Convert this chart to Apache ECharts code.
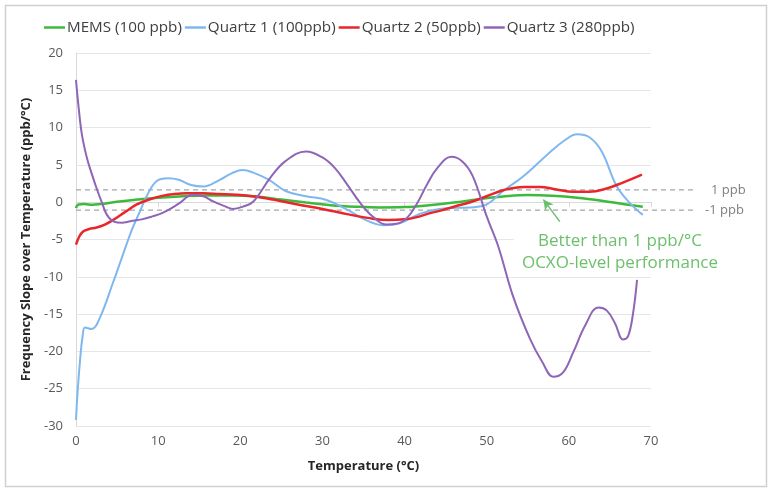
<!DOCTYPE html>
<html lang="en">
<head>
    <meta charset="UTF-8">
    <title>Frequency slope over temperature</title>
    <script src="https://cdn.jsdelivr.net/npm/echarts@6/dist/echarts.min.js"></script>
    <style>
        html, body { margin: 0; padding: 0; background: #fff; }
    </style>
</head>
<body>
<div id="content" style="height: 490px;width: 768px"></div>
<script>
    // series values (temperature in °C, slope in ppb/°C)
    var memsT = [0, 0.3, 1, 2, 3, 5, 7.5, 10, 13, 16, 19, 22, 25, 28, 31, 34, 37, 40, 43, 46, 49, 52, 55, 58, 61, 64, 67, 69];
    var memsV = [-0.8, -0.3, -0.25, -0.35, -0.25, 0.05, 0.35, 0.6, 0.8, 0.9, 0.9, 0.75, 0.35, -0.05, -0.4, -0.6, -0.7, -0.65, -0.4, -0.05, 0.4, 0.75, 0.95, 0.85, 0.6, 0.2, -0.3, -0.6];

    var q1T = [0, 0.16, 0.5, 0.8, 1.1, 1.9, 2.9, 4.5, 5.5, 6.8, 7.8, 8.6, 9.8, 11.2, 12.5, 14, 15.5, 17.5, 19, 20.3, 21.5, 23.5, 25.5, 28, 30.5, 33, 35.5, 37.5, 39.5, 42, 45, 48, 50, 52, 54.5, 57.5, 59.5, 61, 62.5, 64, 65.8, 67.4, 69];
    var q1V = [-29.2, -26, -21.1, -18, -16.8, -17, -15.5, -10.8, -7.7, -3.7, -1.2, 0.8, 2.8, 3.2, 3.0, 2.3, 2.1, 3.0, 3.9, 4.3, 4.0, 3.0, 1.5, 0.8, 0.3, -1.0, -2.5, -3.1, -2.8, -1.5, -0.8, -0.7, -0.3, 1.5, 3.5, 6.5, 8.3, 9.1, 8.7, 6.8, 2.2, -0.1, -1.7];

    var q2T = [0, 0.4, 0.9, 1.6, 2.5, 3.5, 4.5, 6, 7.4, 9, 10.5, 12, 13.5, 15.5, 17.5, 19.5, 21.5, 24, 27, 30, 33, 35.5, 38, 40, 41.5, 43, 44.5, 46, 48, 50, 52, 54.5, 56.5, 58.5, 60.5, 62.5, 64.5, 66.5, 68.9];
    var q2V = [-5.7, -4.6, -3.9, -3.6, -3.4, -3.0, -2.4, -1.3, -0.3, 0.4, 0.85, 1.1, 1.2, 1.2, 1.1, 1.0, 0.8, 0.35, -0.3, -0.9, -1.6, -2.1, -2.4, -2.3, -2.0, -1.5, -1.1, -0.6, 0.0, 0.8, 1.6, 2.05, 2.05, 1.7, 1.4, 1.4, 1.8, 2.6, 3.7];

    var q3T = [0, 0.33, 0.73, 1.34, 1.95, 2.56, 3.17, 3.77, 4.6, 5.6, 6.6, 8, 9.3, 10.6, 12.5, 14.2, 15.5, 16.7, 18, 19.1, 20.3, 21.6, 23.6, 25.5, 28, 30, 31.5, 33, 34.6, 36.2, 37.8, 39, 40.3, 41.5, 42.7, 44, 45.7, 47, 48.3, 50, 51.4, 53.2, 55.3, 56.8, 58.1, 59.3, 60.5, 62, 63.6, 64.6, 65.6, 66.6, 67.2, 67.8, 68.3];
    var q3V = [16.4, 12.6, 9.0, 5.9, 3.7, 1.7, -0.1, -1.7, -2.6, -2.75, -2.55, -2.3, -1.9, -1.4, -0.2, 1.0, 0.8, 0.1, -0.5, -0.9, -0.6, 0.1, 3.2, 5.5, 6.8, 6.0, 4.6, 2.4, -0.1, -2.0, -3.0, -2.9, -2.1, -0.2, 2.3, 4.6, 6.1, 5.5, 3.5, -1.9, -5.9, -12.6, -18.4, -21.5, -23.4, -22.8, -20.2, -16.5, -14.1, -14.5, -16.2, -18.4, -18.0, -15.0, -10.4];

    var seriesNames = ['MEMS (100 ppb)', 'Quartz 1 (100ppb)', 'Quartz 2 (50ppb)', 'Quartz 3 (280ppb)'];
    var seriesColors = ['#3dba3d', '#7fb8ef', '#e8262b', '#8f65b8'];

    // dashed reference levels, drawn on a wider hidden axis
    var refLevels = [1.65, -1.05];
    var refLabels = ['1 ppb', '-1 ppb'];
    var refSpan = [0, 75];

    // arrow of the annotation (data units)
    var arrowFrom = [58.9, -2.6];
    var arrowTo = [56.9, 0.35];

    function zip(xs, ys) {
        return xs.map(function (x, i) { return [x, ys[i]]; });
    }

    var myChart = echarts.init(document.getElementById('content'));
    var font = '"Open Sans", "Noto Sans", sans-serif';

    var lines = [zip(memsT, memsV), zip(q1T, q1V), zip(q2T, q2V), zip(q3T, q3V)].map(function (d, i) {
        return {
            name: seriesNames[i],
            type: 'line',
            data: d,
            smooth: 0.4,
            symbol: 'none',
            xAxisIndex: 0,
            yAxisIndex: 0,
            color: seriesColors[i],
            lineStyle: { width: i === 1 || i === 3 ? 2 : 2.5, color: seriesColors[i] },
            z: 3
        };
    });
    // MEMS line carries the arrow
    lines[0].markLine = {
        silent: true,
        symbol: ['none', 'arrow'],
        symbolSize: [8, 10],
        label: { show: false },
        lineStyle: { color: '#6cc06c', width: 1.5, type: 'solid' },
        data: [[{ coord: arrowFrom }, { coord: arrowTo }]]
    };

    var refs = refLevels.map(function (v, i) {
        return {
            name: refLabels[i],
            type: 'line',
            xAxisIndex: 1,
            yAxisIndex: 1,
            data: refSpan.map(function (x) { return [x, v]; }),
            symbol: 'none',
            silent: true,
            lineStyle: { color: '#a6a6a6', width: 1.3, type: [5, 4] },
            endLabel: {
                show: true,
                formatter: refLabels[i],
                color: '#7f7f7f',
                fontFamily: font,
                fontSize: 13,
                distance: i === 0 ? 18 : 12
            },
            z: 2
        };
    });

    var option = {
        animation: false,
        textStyle: { fontFamily: font },
        legend: {
            data: seriesNames.map(function (n) { return { name: n, icon: 'rect' }; }),
            left: 39,
            top: 15,
            itemWidth: 21,
            itemHeight: 2.5,
            itemGap: 3,
            textStyle: { color: '#404040', fontSize: 15.2, fontFamily: font, padding: [0, 0, 0, -3] }
        },
        grid: [
            { left: 76, right: 117, top: 53, bottom: 64 },
            { left: 76, right: 75, top: 53, bottom: 64 }
        ],
        xAxis: [{
            type: 'value',
            gridIndex: 0,
            min: 0,
            max: 70,
            interval: 10,
            name: 'Temperature (°C)',
            nameLocation: 'middle',
            nameGap: 34,
            nameTextStyle: { color: '#262626', fontSize: 13, fontWeight: 'bold', fontFamily: font },
            axisLine: { show: true, lineStyle: { color: '#d9d9d9' } },
            axisTick: { show: true, length: 5, lineStyle: { color: '#d9d9d9' } },
            axisLabel: { color: '#595959', fontSize: 13, margin: 9, fontFamily: font },
            splitLine: { show: false }
        }, {
            type: 'value',
            gridIndex: 1,
            min: refSpan[0],
            max: refSpan[1],
            show: false
        }],
        yAxis: [{
            type: 'value',
            gridIndex: 0,
            min: -30,
            max: 20,
            interval: 5,
            name: 'Frequency Slope over Temperature (ppb/°C)',
            nameLocation: 'middle',
            nameGap: 41,
            nameTextStyle: { color: '#262626', fontSize: 13, fontWeight: 'bold', fontFamily: font },
            axisLine: { show: true, lineStyle: { color: '#d9d9d9' } },
            axisTick: { show: false },
            axisLabel: { color: '#595959', fontSize: 13, margin: 13, fontFamily: font },
            splitLine: { show: true, lineStyle: { color: '#e6e6e6', width: 1 } }
        }, {
            type: 'value',
            gridIndex: 1,
            min: -30,
            max: 20,
            show: false
        }],
        graphic: [{
            type: 'rect',
            left: 3,
            top: 3,
            shape: { width: 761, height: 481 },
            style: { fill: 'none', stroke: '#d0d0d0', lineWidth: 1.5 },
            silent: true
        }, {
            type: 'text',
            z: 10,
            style: {
                x: 620,
                y: 229,
                text: 'Better than 1 ppb/°C\nOCXO-level performance',
                font: '17px ' + font,
                fill: '#6cc06c',
                align: 'center',
                verticalAlign: 'top',
                lineHeight: 22,
                backgroundColor: '#ffffff',
                padding: [1, 8]
            },
            silent: true
        }],
        series: lines.concat(refs)
    };

    myChart.setOption(option);
</script>
</body>
</html>
